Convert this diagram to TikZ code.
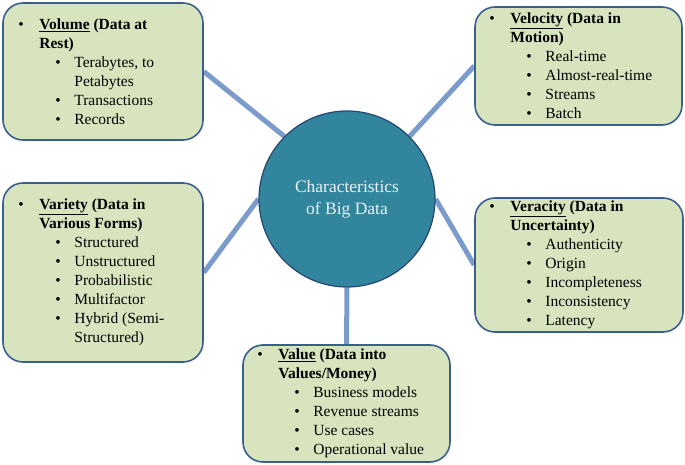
\documentclass[tikz,border=0pt]{standalone}
\usepackage{fontspec}
\setmainfont{Liberation Serif}
\usetikzlibrary{backgrounds}
\definecolor{boxfill}{RGB}{215,228,189}
\definecolor{boxline}{RGB}{58,95,143}
\definecolor{circfill}{RGB}{49,133,156}
\definecolor{circline}{RGB}{40,70,115}
\definecolor{conn}{RGB}{124,155,205}
\definecolor{circtext}{RGB}{235,242,245}
\newcommand\Ha[1]{\makebox[21pt][l]{•}\textbf{#1}}
\newcommand\Hb[1]{\hspace*{21pt}\textbf{#1}}
\newcommand\Ia[1]{\hspace*{37pt}\makebox[19pt][l]{•}#1}
\newcommand\Ib[1]{\hspace*{56pt}#1}
\tikzset{
  bbox/.style={draw=boxline, line width=1.6pt, fill=boxfill, rounded corners=20pt, inner sep=0pt},
  btext/.style={anchor=west, inner sep=0pt, align=left, font=\fontsize{15.5}{19}\selectfont},
  conn/.style={draw=conn, line width=5pt},
}
\begin{document}
\begin{tikzpicture}[x=1pt,y=-1pt]
\useasboundingbox (0,0) rectangle (685,465);
\node[bbox, minimum width=200pt, minimum height=137pt] (vol) at (103,71.5) {};
\node[bbox, minimum width=207pt, minimum height=118pt] (vel) at (578.5,66) {};
\node[bbox, minimum width=200pt, minimum height=179pt] (var) at (103,272.5) {};
\node[bbox, minimum width=208pt, minimum height=134pt] (ver) at (579,265) {};
\node[bbox, minimum width=207pt, minimum height=117pt] (val) at (346.5,403.5) {};
\node[circle, draw=circline, line width=1.2pt, fill=circfill, minimum size=176pt, inner sep=0pt,
  text=circtext, align=center, font=\fontsize{17.5}{22}\selectfont] (c) at (347,199)
  {Characteristics\\of Big Data};
\node[btext] (volt) at ([xshift=16pt]vol.west) {\Ha{\underline{Volume} (Data at}\\\Hb{Rest)}\\\Ia{Terabytes, to}\\\Ib{Petabytes}\\\Ia{Transactions}\\\Ia{Records}};
\node[btext] (velt) at ([xshift=15pt]vel.west) {\Ha{\underline{Velocity} (Data in}\\\Hb{Motion)}\\\Ia{Real-time}\\\Ia{Almost-real-time}\\\Ia{Streams}\\\Ia{Batch}};
\node[btext] (vart) at ([xshift=16pt]var.west) {\Ha{\underline{Variety} (Data in}\\\Hb{Various Forms)}\\\Ia{Structured}\\\Ia{Unstructured}\\\Ia{Probabilistic}\\\Ia{Multifactor}\\\Ia{Hybrid (Semi-}\\\Ib{Structured)}};
\node[btext] (vert) at ([xshift=15pt]ver.west) {\Ha{\underline{Veracity} (Data in}\\\Hb{Uncertainty)}\\\Ia{Authenticity}\\\Ia{Origin}\\\Ia{Incompleteness}\\\Ia{Inconsistency}\\\Ia{Latency}};
\node[btext] (valt) at ([xshift=15pt]val.west) {\Ha{\underline{Value} (Data into}\\\Hb{Values/Money)}\\\Ia{Business models}\\\Ia{Revenue streams}\\\Ia{Use cases}\\\Ia{Operational value}};
\begin{scope}[on background layer]
\draw[conn] (vol.east) -- (c.135);
\draw[conn] (vel.west) -- (c.45);
\draw[conn] (var.east) -- (c.west);
\draw[conn] (ver.west) -- (c.east);
\draw[conn] (val.north) -- (c.south);
\end{scope}
\end{tikzpicture}
\end{document}
